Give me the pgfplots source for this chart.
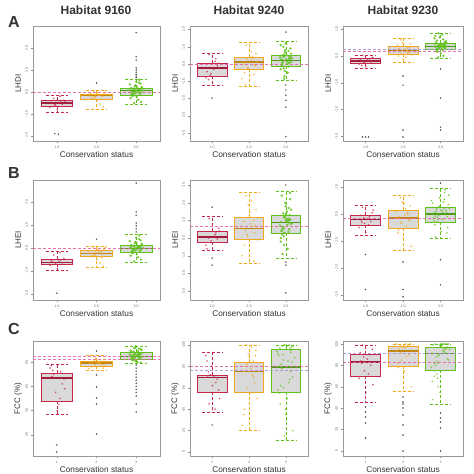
\documentclass[border=0pt]{standalone}
\usepackage{fontspec}
\setmainfont{Liberation Sans}
\usepackage{pgfplots}
\pgfplotsset{compat=1.18}
\usepgfplotslibrary{statistics}

\definecolor{cRed}{HTML}{C8264A}
\definecolor{cOra}{HTML}{F2A81D}
\definecolor{cGre}{HTML}{5EC21A}
\definecolor{boxgray}{HTML}{D9D9D9}
\definecolor{refpink}{HTML}{E466A6}
\definecolor{reflav}{HTML}{A994D6}
\definecolor{txt}{HTML}{333333}

\pgfplotsset{
  panel/.style={
    scale only axis, anchor=north west,
    xmin=0.4, xmax=3.6, xtick={1,2,3},
    axis line style={draw=black!40, line width=0.4pt},
    tick style={draw=black!45, line width=0.3pt},
    major tick length=1.6pt, tick align=outside,
    xtick pos=bottom, ytick pos=left,
    tick label style={font=\fontsize{3.6}{4}\selectfont, text=black!55},
    yticklabel style={rotate=90, anchor=south},
    /pgf/number format/.cd, fixed, fixed zerofill, precision=1, assume math mode=true, /pgfplots/.cd,
    every axis y label/.style={at={(axis description cs:0,0.5)}, xshift=-15pt, rotate=90, anchor=center,
      font=\fontsize{8}{9}\selectfont, text=txt},
    every axis x label/.style={at={(axis description cs:0.5,0)}, yshift=-14pt, anchor=center,
      font=\fontsize{8.3}{9}\selectfont, text=txt},
    xlabel={Conservation status},
  },
  bxp/.style={draw=#1, fill=boxgray, line width=0.55pt,
    boxplot/draw direction=y,
    boxplot/box extend=0.8, boxplot/whisker extend=0.55,
    boxplot/every whisker/.style={densely dashed, line width=0.4pt},
    boxplot/every median/.style={draw=#1!80!black, line width=1.1pt}},
  jit/.style={only marks, mark=*, mark size=0.65pt, color=#1, opacity=0.6},
  jitg/.style={only marks, mark=*, mark size=1.0pt, color=#1, opacity=0.75},
  out/.style={only marks, mark=*, mark size=0.55pt, color=black!75, opacity=0.8},
  refl/.style={densely dashed, draw=#1, line width=0.5pt, opacity=0.9},
}

\begin{document}
\begin{tikzpicture}
\useasboundingbox (0,0) rectangle (474pt,-474pt);

% column titles and panel letters
\node[font=\bfseries\fontsize{12}{14}\selectfont, text=txt] at (96pt,-10pt) {Habitat 9160};
\node[font=\bfseries\fontsize{12}{14}\selectfont, text=txt] at (249pt,-10pt) {Habitat 9240};
\node[font=\bfseries\fontsize{12}{14}\selectfont, text=txt] at (403pt,-10pt) {Habitat 9230};
\node[font=\bfseries\fontsize{16}{18}\selectfont, text=txt] at (14pt,-22pt) {A};
\node[font=\bfseries\fontsize{16}{18}\selectfont, text=txt] at (14pt,-173pt) {B};
\node[font=\bfseries\fontsize{16}{18}\selectfont, text=txt] at (14pt,-329pt) {C};

% ---------- A1: LHDI, 9160
\begin{axis}[panel, at={(33pt,-26pt)}, width=127pt, height=115pt,
  ymin=-2.23, ymax=3.0, ytick={-2,-1,0,1,2}, ylabel={LHDI}]
\addplot[bxp=cRed, boxplot prepared={draw position=1, lower whisker=-0.91, lower quartile=-0.64, median=-0.5, upper quartile=-0.36, upper whisker=-0.14}] coordinates {};
\addplot[bxp=cOra, boxplot prepared={draw position=2, lower whisker=-0.77, lower quartile=-0.32, median=-0.18, upper quartile=-0.09, upper whisker=0.09}] coordinates {};
\addplot[bxp=cGre, boxplot prepared={draw position=3, lower whisker=-0.55, lower quartile=-0.14, median=0.05, upper quartile=0.18, upper whisker=0.59}] coordinates {};
\addplot[jit=cRed] coordinates {(0.88,-0.52)(1.10,-0.45)(0.97,-0.61)(1.18,-0.38)(0.83,-0.70)(1.05,-0.50)(0.92,-0.29)(1.14,-0.56)(1.01,-0.82)(0.86,-0.47)(1.08,-0.20)(0.95,-0.58)(1.20,-0.42)(0.90,-0.66)};
\addplot[jit=cOra] coordinates {(1.84,-0.18)(2.12,-0.12)(1.96,-0.25)(2.19,-0.05)(1.88,-0.30)(2.05,-0.15)(1.93,0.02)(2.15,-0.21)(2.01,-0.40)(1.81,-0.10)(2.09,-0.55)(1.98,-0.19)(2.22,0.06)(1.90,-0.27)(2.07,-0.14)(1.86,-0.08)(2.13,-0.35)(1.95,-0.22)(2.03,-0.02)(2.17,-0.68)};
\addplot[jitg=cGre] coordinates {(2.87,0.05)(3.09,-0.08)(2.95,0.12)(3.14,0.20)(2.90,-0.15)(3.04,0.02)(2.98,0.30)(3.12,-0.03)(2.86,0.09)(3.01,-0.22)(2.93,0.15)(3.07,0.42)(2.89,-0.10)(3.16,0.06)(2.97,0.25)(3.05,-0.35)(2.92,0.00)(3.10,0.11)(2.99,-0.05)(2.88,0.18)(3.08,0.55)(2.94,-0.12)(3.03,0.08)(2.84,0.34)(3.12,-0.45)(2.96,0.03)(3.06,0.14)(2.91,-0.18)(3.14,0.22)(3.00,0.48)(2.94,-0.01)(3.08,0.07)(2.86,-0.28)(3.03,0.16)(2.97,0.04)(3.11,0.38)(2.90,-0.07)(3.07,0.10)(2.95,-0.50)(3.01,0.27)};
\addplot[out] coordinates {(0.95,-1.90)(1.04,-1.92)(2,0.41)(3,2.7)(3,1.6)(3,1.45)(3,1.1)(3,1.0)(3,0.9)(3,0.8)(3,0.72)(3,0.65)};
\addplot[refl=refpink] coordinates {(0.4,0) (3.6,0)};
\end{axis}

% ---------- A2: LHDI, 9240
\begin{axis}[panel, at={(190pt,-26pt)}, width=118pt, height=115pt,
  ymin=-4.45, ymax=2.2, ytick={-4,-3,-2,-1,0,1,2}, ylabel={LHDI}]
\addplot[bxp=cRed, boxplot prepared={draw position=1, lower whisker=-1.21, lower quartile=-0.69, median=-0.23, upper quartile=0.06, upper whisker=0.64}] coordinates {};
\addplot[bxp=cOra, boxplot prepared={draw position=2, lower whisker=-1.27, lower quartile=-0.29, median=0.12, upper quartile=0.40, upper whisker=1.27}] coordinates {};
\addplot[bxp=cGre, boxplot prepared={draw position=3, lower whisker=-0.92, lower quartile=-0.12, median=0.23, upper quartile=0.52, upper whisker=1.33}] coordinates {};
\addplot[jit=cRed] coordinates {(0.88,-0.20)(1.10,0.30)(0.97,-0.55)(1.18,0.05)(0.83,-0.80)(1.05,-0.30)(0.92,0.55)(1.14,-0.10)(1.01,-1.10)(0.86,-0.45)(1.08,0.15)(0.95,-0.65)(1.20,-0.25)(0.90,-0.90)};
\addplot[jit=cOra] coordinates {(1.84,0.10)(2.12,0.35)(1.96,-0.20)(2.19,0.60)(1.88,-0.50)(2.05,0.20)(1.93,1.10)(2.15,-0.05)(2.01,0.85)(1.81,-0.85)(2.09,0.45)(1.98,-0.25)(2.22,0.15)(1.90,-1.20)(2.07,0.70)(1.86,0.00)(2.13,-0.60)(1.95,0.30)(2.03,1.25)(2.17,-0.10)};
\addplot[jitg=cGre] coordinates {(2.87,0.25)(3.09,0.05)(2.95,0.40)(3.14,0.60)(2.90,-0.10)(3.04,0.15)(2.98,0.80)(3.12,0.30)(2.86,-0.30)(3.01,0.50)(2.93,1.00)(3.07,0.20)(2.89,-0.05)(3.16,0.35)(2.97,0.70)(3.05,-0.50)(2.92,0.10)(3.10,0.45)(2.99,1.20)(2.88,0.28)(3.08,-0.15)(2.94,0.55)(3.03,0.00)(2.84,0.38)(3.12,0.90)(2.96,-0.70)(3.06,0.22)(2.91,0.48)(3.14,0.12)(3.00,0.65)(2.94,-0.25)(3.08,0.32)(2.86,1.10)(3.03,0.18)(2.97,-0.40)(3.11,0.42)(2.90,0.08)(3.07,0.75)(2.95,-0.85)(3.01,0.26)};
\addplot[out] coordinates {(1,-1.97)(3,1.85)(3,-1.21)(3,-1.5)(3,-1.8)(3,-2.1)(3,-2.49)(3,-4.2)};
\addplot[refl=refpink] coordinates {(0.4,0) (3.6,0)};
\end{axis}

% ---------- A3: LHDI, 9230
\begin{axis}[panel, at={(343pt,-26pt)}, width=120pt, height=115pt,
  ymin=-3.18, ymax=1.12, ytick={-3,-2,-1,0,1}, ylabel={LHDI}]
\addplot[bxp=cRed, boxplot prepared={draw position=1, lower whisker=-0.45, lower quartile=-0.26, median=-0.19, upper quartile=-0.07, upper whisker=0.04}] coordinates {};
\addplot[bxp=cOra, boxplot prepared={draw position=2, lower whisker=-0.22, lower quartile=0.07, median=0.22, upper quartile=0.37, upper whisker=0.67}] coordinates {};
\addplot[bxp=cGre, boxplot prepared={draw position=3, lower whisker=-0.07, lower quartile=0.26, median=0.34, upper quartile=0.49, upper whisker=0.86}] coordinates {};
\addplot[jit=cRed] coordinates {(0.88,-0.19)(1.10,-0.10)(0.97,-0.25)(1.18,-0.05)(0.83,-0.30)(1.05,-0.15)(0.92,0.02)(1.14,-0.22)(1.01,-0.40)(0.86,-0.12)(1.08,-0.18)(0.95,-0.28)(1.20,-0.08)(0.90,-0.35)};
\addplot[jit=cOra] coordinates {(1.84,0.22)(2.12,0.30)(1.96,0.10)(2.19,0.45)(1.88,0.00)(2.05,0.25)(1.93,0.60)(2.15,0.15)(2.01,-0.15)(1.81,0.35)(2.09,0.18)(1.98,0.50)(2.22,0.05)(1.90,0.28)(2.07,-0.05)(1.86,0.40)(2.13,0.12)(1.95,0.65)(2.03,0.20)(2.17,0.33)};
\addplot[jitg=cGre] coordinates {(2.87,0.34)(3.09,0.40)(2.95,0.28)(3.14,0.55)(2.90,0.20)(3.04,0.36)(2.98,0.70)(3.12,0.30)(2.86,0.45)(3.01,0.10)(2.93,0.38)(3.07,0.62)(2.89,0.25)(3.16,0.48)(2.97,0.32)(3.05,0.80)(2.92,0.15)(3.10,0.42)(2.99,0.35)(2.88,0.52)(3.08,0.00)(2.94,0.29)(3.03,0.44)(2.84,0.66)(3.12,0.31)(2.96,0.39)(3.06,0.22)(2.91,0.58)(3.14,0.37)(3.00,0.47)(2.94,-0.05)(3.08,0.33)(2.86,0.75)(3.03,0.27)(2.97,0.41)(3.11,0.50)(2.90,0.18)(3.07,0.36)(2.95,0.85)(3.01,0.43)};
\addplot[out] coordinates {(0.92,-3.03)(1.0,-3.03)(1.08,-3.03)(2,-0.75)(2,-1.09)(2,-2.77)(2,-3.03)(3,-0.49)(3,-1.57)(3,-2.66)(3,-2.77)};
\addplot[refl=reflav] coordinates {(0.4,0.26) (3.6,0.26)};
\addplot[refl=refpink] coordinates {(0.4,0.19) (3.6,0.19)};
\end{axis}

% ---------- B1: LHEI, 9160
\begin{axis}[panel, at={(33pt,-180pt)}, width=127pt, height=120pt,
  ymin=-2.26, ymax=2.96, ytick={-2,-1,0,1,2}, ylabel={LHEI}]
\addplot[bxp=cRed, boxplot prepared={draw position=1, lower whisker=-0.96, lower quartile=-0.70, median=-0.61, upper quartile=-0.48, upper whisker=-0.13}] coordinates {};
\addplot[bxp=cOra, boxplot prepared={draw position=2, lower whisker=-0.83, lower quartile=-0.35, median=-0.22, upper quartile=-0.09, upper whisker=0.09}] coordinates {};
\addplot[bxp=cGre, boxplot prepared={draw position=3, lower whisker=-0.61, lower quartile=-0.17, median=0.0, upper quartile=0.13, upper whisker=0.61}] coordinates {};
\addplot[jit=cRed] coordinates {(0.88,-0.60)(1.10,-0.52)(0.97,-0.68)(1.18,-0.45)(0.83,-0.75)(1.05,-0.58)(0.92,-0.30)(1.14,-0.64)(1.01,-0.88)(0.86,-0.55)(1.08,-0.20)(0.95,-0.62)(1.20,-0.50)(0.90,-0.72)};
\addplot[jit=cOra] coordinates {(1.84,-0.22)(2.12,-0.15)(1.96,-0.30)(2.19,-0.05)(1.88,-0.38)(2.05,-0.18)(1.93,0.05)(2.15,-0.26)(2.01,-0.50)(1.81,-0.12)(2.09,-0.65)(1.98,-0.20)(2.22,0.02)(1.90,-0.33)(2.07,-0.10)(1.86,-0.24)(2.13,-0.42)(1.95,-0.28)(2.03,-0.08)(2.17,-0.78)};
\addplot[jitg=cGre] coordinates {(2.87,0.00)(3.09,-0.12)(2.95,0.08)(3.14,0.16)(2.90,-0.20)(3.04,-0.03)(2.98,0.26)(3.12,-0.08)(2.86,0.04)(3.01,-0.27)(2.93,0.10)(3.07,0.40)(2.89,-0.15)(3.16,0.01)(2.97,0.21)(3.05,-0.40)(2.92,-0.05)(3.10,0.06)(2.99,-0.10)(2.88,0.13)(3.08,0.55)(2.94,-0.17)(3.03,0.03)(2.84,0.30)(3.12,-0.50)(2.96,-0.02)(3.06,0.09)(2.91,-0.23)(3.14,0.18)(3.00,0.45)(2.94,-0.06)(3.08,0.02)(2.86,-0.33)(3.03,0.11)(2.97,-0.01)(3.11,0.34)(2.90,-0.12)(3.07,0.05)(2.95,-0.58)(3.01,0.23)};
\addplot[out] coordinates {(1,-1.96)(2,0.39)(3,2.83)(3,1.57)(3,1.43)(3,1.09)(3,0.96)(3,0.83)(3,0.7)};
\addplot[refl=refpink] coordinates {(0.4,0) (3.6,0)};
\end{axis}

% ---------- B2: LHEI, 9240
\begin{axis}[panel, at={(190pt,-180pt)}, width=118pt, height=120pt,
  ymin=-3.5, ymax=3.28, ytick={-3,-2,-1,0,1,2,3}, ylabel={LHEI}]
\addplot[bxp=cRed, boxplot prepared={draw position=1, lower whisker=-0.68, lower quartile=-0.23, median=0.06, upper quartile=0.40, upper whisker=1.24}] coordinates {};
\addplot[bxp=cOra, boxplot prepared={draw position=2, lower whisker=-1.41, lower quartile=-0.06, median=0.56, upper quartile=1.19, upper whisker=2.6}] coordinates {};
\addplot[bxp=cGre, boxplot prepared={draw position=3, lower whisker=-1.13, lower quartile=0.28, median=0.90, upper quartile=1.30, upper whisker=2.66}] coordinates {};
\addplot[jit=cRed] coordinates {(0.88,0.05)(1.10,0.30)(0.97,-0.15)(1.18,0.55)(0.83,-0.40)(1.05,0.10)(0.92,1.10)(1.14,-0.05)(1.01,0.80)(0.86,-0.60)(1.08,0.20)(0.95,-0.25)(1.20,0.40)(0.90,0.00)};
\addplot[jit=cOra] coordinates {(1.84,0.55)(2.12,1.00)(1.96,0.10)(2.19,1.60)(1.88,-0.40)(2.05,0.80)(1.93,2.40)(2.15,0.30)(2.01,1.30)(1.81,-1.00)(2.09,0.65)(1.98,1.90)(2.22,-0.10)(1.90,0.45)(2.07,2.10)(1.86,0.95)(2.13,-1.30)(1.95,0.20)(2.03,1.45)(2.17,0.70)};
\addplot[jitg=cGre] coordinates {(2.87,0.90)(3.09,0.50)(2.95,1.20)(3.14,1.60)(2.90,0.20)(3.04,0.75)(2.98,2.00)(3.12,1.05)(2.86,-0.20)(3.01,0.95)(2.93,1.40)(3.07,0.35)(2.89,2.40)(3.16,0.85)(2.97,1.15)(3.05,-0.60)(2.92,0.60)(3.10,1.30)(2.99,1.80)(2.88,0.40)(3.08,1.00)(2.94,0.10)(3.03,1.50)(2.84,0.70)(3.12,2.20)(2.96,0.30)(3.06,1.10)(2.91,-0.90)(3.14,0.80)(3.00,1.35)(2.94,0.55)(3.08,1.70)(2.86,0.00)(3.03,0.98)(2.97,1.25)(3.11,2.55)(2.90,0.45)(3.07,0.88)(2.95,-0.40)(3.01,1.05)};
\addplot[out] coordinates {(1,1.75)(1,-1.13)(1,-1.53)(3,3.0)(3,-1.36)(3,-1.53)(3,-3.1)};
\addplot[refl=refpink] coordinates {(0.4,0.68) (3.6,0.68)};
\end{axis}

% ---------- B3: LHEI, 9230
\begin{axis}[panel, at={(343pt,-180pt)}, width=120pt, height=120pt,
  ymin=-3.19, ymax=1.26, ytick={-3,-2,-1,0,1}, ylabel={LHEI}]
\addplot[bxp=cRed, boxplot prepared={draw position=1, lower whisker=-0.78, lower quartile=-0.41, median=-0.22, upper quartile=-0.04, upper whisker=0.33}] coordinates {};
\addplot[bxp=cOra, boxplot prepared={draw position=2, lower whisker=-1.33, lower quartile=-0.52, median=-0.15, upper quartile=0.15, upper whisker=0.70}] coordinates {};
\addplot[bxp=cGre, boxplot prepared={draw position=3, lower whisker=-0.89, lower quartile=-0.30, median=0.0, upper quartile=0.26, upper whisker=0.96}] coordinates {};
\addplot[jit=cRed] coordinates {(0.88,-0.22)(1.10,-0.10)(0.97,-0.35)(1.18,0.05)(0.83,-0.50)(1.05,-0.18)(0.92,0.25)(1.14,-0.28)(1.01,-0.70)(0.86,-0.05)(1.08,-0.40)(0.95,-0.15)(1.20,0.15)(0.90,-0.30)};
\addplot[jit=cOra] coordinates {(1.84,-0.15)(2.12,0.05)(1.96,-0.35)(2.19,0.30)(1.88,-0.60)(2.05,-0.05)(1.93,0.60)(2.15,-0.25)(2.01,-0.90)(1.81,0.10)(2.09,-0.45)(1.98,0.45)(2.22,-1.20)(1.90,-0.10)(2.07,0.20)(1.86,-0.70)(2.13,0.00)(1.95,-0.30)(2.03,0.40)(2.17,-0.20)};
\addplot[jit=cGre] coordinates {(2.80,0.00)(3.14,0.15)(2.93,-0.20)(3.21,0.35)(2.85,-0.40)(3.06,0.05)(2.97,0.60)(3.18,-0.10)(2.78,0.25)(3.02,-0.65)(2.89,0.10)(3.11,0.80)(2.83,-0.25)(3.24,0.20)(2.95,-0.05)(3.08,0.45)(2.87,-0.85)(3.16,0.08)(2.99,0.30)(2.81,-0.15)(3.12,0.90)(2.91,-0.30)(3.04,0.12)(2.76,0.50)(3.19,-0.50)(2.94,0.02)(3.09,0.22)(2.86,-0.08)(3.22,0.70)(3.00,-0.35)(2.90,0.18)(3.13,-0.02)(2.79,0.40)(3.05,-0.20)(2.96,0.28)(3.17,-0.70)(2.84,0.06)(3.10,0.55)(2.92,-0.12)(3.01,0.14)};
\addplot[out] coordinates {(1,-1.5)(1,-2.8)(2,-1.78)(2,-2.8)(2,-3.07)(3,1.15)(3,-1.7)(3,-2.63)};
\addplot[refl=refpink] coordinates {(0.4,-0.15) (3.6,-0.15)};
\end{axis}

% ---------- C1: FCC, 9160
\begin{axis}[panel, at={(33pt,-341pt)}, width=127pt, height=115pt,
  ymin=2.6, ymax=97.3, ytick={20,40,60,80}, ylabel={FCC (\%)}, /pgf/number format/precision=0]
\addplot[bxp=cRed, boxplot prepared={draw position=1, lower whisker=37.2, lower quartile=47.9, median=66.8, upper quartile=70.9, upper whisker=78.4}] coordinates {};
\addplot[bxp=cOra, boxplot prepared={draw position=2, lower whisker=73.4, lower quartile=76.7, median=79.2, upper quartile=80.8, upper whisker=85.8}] coordinates {};
\addplot[bxp=cGre, boxplot prepared={draw position=3, lower whisker=79.2, lower quartile=82.5, median=84.9, upper quartile=88.2, upper whisker=93.2}] coordinates {};
\addplot[jit=cRed] coordinates {(0.88,68)(1.10,72)(0.97,55)(1.18,66)(0.83,75)(1.05,45)(0.92,70)(1.14,62)(1.01,40)(0.86,77)(1.08,50)(0.95,67)(1.20,58)(0.90,73)};
\addplot[jit=cOra] coordinates {(1.84,79)(2.12,80.5)(1.96,77.5)(2.19,82)(1.88,76)(2.05,79.5)(1.93,84.5)(2.15,78)(2.01,81)(1.81,74.5)(2.09,79.8)(1.98,83)(2.22,77)(1.90,80)(2.07,78.5)(1.86,85.5)(2.13,76.5)(1.95,81.5)(2.03,79.2)(2.17,75)};
\addplot[jitg=cGre] coordinates {(2.87,85)(3.09,87)(2.95,83)(3.14,90)(2.90,82)(3.04,86)(2.98,92)(3.12,84)(2.86,88)(3.01,80.5)(2.93,85.5)(3.07,91)(2.89,83.5)(3.16,87.5)(2.97,81)(3.05,89)(2.92,84.5)(3.10,86.5)(2.99,93)(2.88,82.5)(3.08,85.2)(2.94,88.5)(3.03,80)(2.84,86.2)(3.12,90.5)(2.96,83.8)(3.06,87.2)(2.91,81.5)(3.14,84.2)(3.00,92.5)(2.94,85.8)(3.08,82.8)(2.86,89.5)(3.03,84.8)(2.97,86.8)(3.11,79.5)(2.90,88.2)(3.07,83.2)(2.95,91.5)(3.01,85.4)};
\addplot[out] coordinates {(1,11.7)(1,5.9)(2,89.1)(2,69.3)(2,59.4)(2,50.4)(2,45.4)(2,20.7)(3,77.5)(3,75)(3,72.5)(3,70)(3,67.5)(3,65)(3,62.5)(3,60)(3,57.5)(3,55)(3,52)(3,45.4)(3,38.9)};
\addplot[refl=refpink] coordinates {(0.4,84.6) (3.6,84.6)};
\addplot[refl=refpink] coordinates {(0.4,82.6) (3.6,82.6)};
\end{axis}

% ---------- C2: FCC, 9240
\begin{axis}[panel, at={(190pt,-341pt)}, width=118pt, height=115pt,
  ymin=-3.8, ymax=103.7, ytick={0,20,40,60,80,100}, ylabel={FCC (\%)}, /pgf/number format/precision=0]
\addplot[bxp=cRed, boxplot prepared={draw position=1, lower whisker=37.4, lower quartile=56, median=69.2, upper quartile=72, upper whisker=93.5}] coordinates {};
\addplot[bxp=cOra, boxplot prepared={draw position=2, lower whisker=20.5, lower quartile=56, median=74.8, upper quartile=84.1, upper whisker=100}] coordinates {};
\addplot[bxp=cGre, boxplot prepared={draw position=3, lower whisker=11.2, lower quartile=56, median=79.4, upper quartile=96.3, upper whisker=100}] coordinates {};
\addplot[jit=cRed] coordinates {(0.88,70)(1.10,65)(0.97,80)(1.18,58)(0.83,90)(1.05,71)(0.92,45)(1.14,68)(1.01,62)(0.86,85)(1.08,40)(0.95,72)(1.20,50)(0.90,75)};
\addplot[jit=cOra] coordinates {(1.84,75)(2.12,85)(1.96,60)(2.19,95)(1.88,40)(2.05,78)(1.93,100)(2.15,65)(2.01,88)(1.81,25)(2.09,72)(1.98,92)(2.22,50)(1.90,80)(2.07,98)(1.86,35)(2.13,70)(1.95,82)(2.03,55)(2.17,90)};
\addplot[jit=cGre] coordinates {(2.80,80)(3.14,95)(2.93,60)(3.21,99)(2.85,45)(3.06,85)(2.97,100)(3.18,70)(2.78,92)(3.02,30)(2.89,78)(3.11,97)(2.83,55)(3.24,88)(2.95,100)(3.08,65)(2.87,82)(3.16,98)(2.99,40)(2.81,90)(3.12,75)(2.91,99)(3.04,50)(2.76,94)(3.19,20)(2.94,86)(3.09,100)(2.86,62)(3.22,96)(3.00,35)(2.90,80)(3.13,93)(2.79,58)(3.05,99)(2.96,15)(3.17,84)(2.84,97)(3.10,68)(2.92,91)(3.01,100)};
\addplot[out] coordinates {(1,25.2)};
\addplot[refl=reflav] coordinates {(0.4,76.6) (3.6,76.6)};
\addplot[refl=refpink] coordinates {(0.4,80.4) (3.6,80.4)};
\end{axis}

% ---------- C3: FCC, 9230
\begin{axis}[panel, at={(343pt,-341pt)}, width=120pt, height=115pt,
  ymin=-4.7, ymax=102.8, ytick={0,20,40,60,80,100}, ylabel={FCC (\%)}, /pgf/number format/precision=0]
\addplot[bxp=cRed, boxplot prepared={draw position=1, lower whisker=45.8, lower quartile=70.1, median=83.2, upper quartile=90.7, upper whisker=99.1}] coordinates {};
\addplot[bxp=cOra, boxplot prepared={draw position=2, lower whisker=56.1, lower quartile=79.4, median=93.5, upper quartile=98.1, upper whisker=100}] coordinates {};
\addplot[bxp=cGre, boxplot prepared={draw position=3, lower whisker=43.9, lower quartile=75.7, median=90.7, upper quartile=97.2, upper whisker=100}] coordinates {};
\addplot[jit=cRed] coordinates {(0.88,84)(1.10,90)(0.97,75)(1.18,95)(0.83,68)(1.05,86)(0.92,99)(1.14,80)(1.01,55)(0.86,92)(1.08,72)(0.95,88)(1.20,62)(0.90,82)};
\addplot[jit=cOra] coordinates {(1.84,94)(2.12,98)(1.96,85)(2.19,100)(1.88,78)(2.05,96)(1.93,99)(2.15,90)(2.01,70)(1.81,100)(2.09,88)(1.98,97)(2.22,60)(1.90,95)(2.07,100)(1.86,82)(2.13,99)(1.95,92)(2.03,75)(2.17,98)};
\addplot[jit=cGre] coordinates {(2.80,91)(3.14,97)(2.93,82)(3.21,100)(2.85,75)(3.06,94)(2.97,99)(3.18,86)(2.78,65)(3.02,98)(2.89,88)(3.11,100)(2.83,70)(3.24,95)(2.95,90)(3.08,100)(2.87,80)(3.16,96)(2.99,55)(2.81,99)(3.12,92)(2.91,84)(3.04,100)(2.76,78)(3.19,97)(2.94,60)(3.09,93)(2.86,100)(3.22,85)(3.00,98)(2.90,72)(3.13,95)(2.79,48)(3.05,99)(2.96,89)(3.17,100)(2.84,82)(3.10,96)(2.92,68)(3.01,100)};
\addplot[out] coordinates {(1,41.1)(1,36.4)(1,31.7)(1,26.1)(1,12.1)(2,50.4)(2,45.8)(2,43.9)(2,40.2)(2,33.6)(2,24.3)(2,14.9)(2,0)(3,35.5)(3,30.8)(3,27.1)(3,21.5)(3,0)};
\addplot[refl=reflav] coordinates {(0.4,91.6) (3.6,91.6)};
\addplot[refl=refpink] coordinates {(0.4,83.2) (3.6,83.2)};
\end{axis}
\end{tikzpicture}
\end{document}
